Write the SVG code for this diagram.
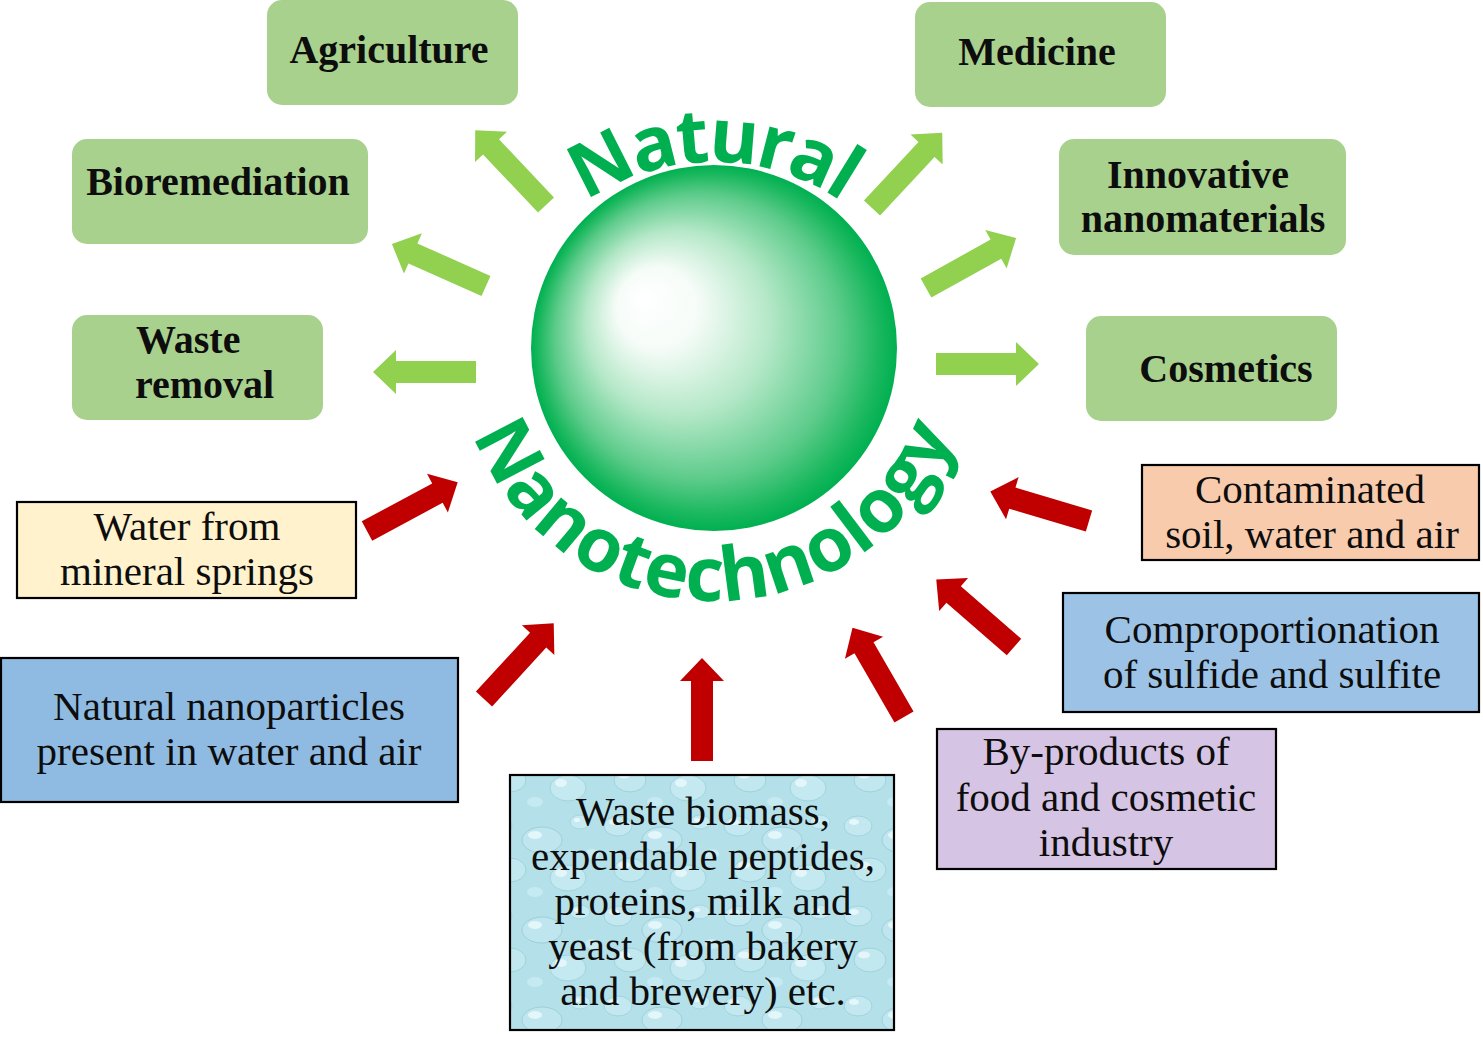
<svg xmlns="http://www.w3.org/2000/svg" xmlns:xlink="http://www.w3.org/1999/xlink" width="1483" height="1039" viewBox="0 0 1483 1039">
<style>
.gbox{fill:#a9d18e;}
.bt{font-family:"Liberation Serif","Times New Roman",serif;font-weight:bold;font-size:40px;fill:#0d0d0d;}
.rt{font-family:"Liberation Serif","Times New Roman",serif;font-size:41px;fill:#0d0d0d;text-anchor:middle;}
.sb{stroke:#000;stroke-width:2.2;}
.ga{fill:#92d050;}
.ra{fill:#c00000;}
.arc{font-family:"Open Sans","Noto Sans","DejaVu Sans",sans-serif;font-weight:bold;font-size:75px;fill:#00b050;}
</style>
<defs>
<radialGradient id="sph" cx="50%" cy="50%" r="50%" fx="30%" fy="36%">
<stop offset="0" stop-color="#ffffff"/>
<stop offset="0.22" stop-color="#f6fcf8"/>
<stop offset="0.5" stop-color="#b5e8c8"/>
<stop offset="0.78" stop-color="#5ccb8a"/>
<stop offset="0.93" stop-color="#1ab85e"/>
<stop offset="1" stop-color="#00b050"/>
</radialGradient>
<pattern id="drops" width="120" height="90" patternUnits="userSpaceOnUse">
<rect width="120" height="90" fill="#b4e0ea"/>
<ellipse cx="18" cy="16" rx="14" ry="10" fill="#c3e8f0" stroke="#a0d4df" stroke-width="1"/>
<ellipse cx="62" cy="30" rx="20" ry="13" fill="#bfe6ee" stroke="#9ccfdb" stroke-width="1"/>
<ellipse cx="100" cy="12" rx="10" ry="7" fill="#c6eaf1" stroke="#a3d6e0" stroke-width="1"/>
<ellipse cx="30" cy="60" rx="16" ry="12" fill="#c1e7ef" stroke="#9ed2dd" stroke-width="1"/>
<ellipse cx="88" cy="68" rx="18" ry="13" fill="#c4e9f0" stroke="#a0d4df" stroke-width="1"/>
<ellipse cx="112" cy="44" rx="7" ry="5" fill="#c8ebf2"/>
<ellipse cx="55" cy="82" rx="8" ry="5" fill="#c6eaf1"/>
<ellipse cx="14" cy="12" rx="5" ry="3" fill="#e6f7fa"/>
<ellipse cx="55" cy="25" rx="7" ry="4" fill="#e3f6fa"/>
<ellipse cx="24" cy="55" rx="6" ry="3.5" fill="#e4f6fa"/>
<ellipse cx="81" cy="63" rx="6" ry="4" fill="#e4f6fa"/>
<ellipse cx="97" cy="10" rx="3" ry="2" fill="#eaf8fb"/>
</pattern>
<path id="arr" d="M0,-11 L80,-11 L80,-22 L103,0 L80,22 L80,11 L0,11 Z"/>
<path id="topArc" d="M488,388 A226,226 0 0 1 940,388"/>
<path id="botArc" d="M457,344 A257,257 0 0 0 971,344"/>
</defs>
<rect width="1483" height="1039" fill="#ffffff"/>

<g id="center">
<circle cx="714" cy="348" r="183" fill="url(#sph)"/>
<text class="arc" textLength="272" lengthAdjust="spacing"><textPath xlink:href="#topArc" href="#topArc" startOffset="50%" text-anchor="middle">Natural</textPath></text>
<text class="arc" textLength="621" lengthAdjust="spacing"><textPath xlink:href="#botArc" href="#botArc" startOffset="50%" text-anchor="middle">Nanotechnology</textPath></text>
</g>

<g id="agriculture">
<rect class="gbox" x="267" y="0" width="251" height="105" rx="15"/>
<text class="bt" x="389" y="63" text-anchor="middle">Agriculture</text>
</g>
<g id="medicine">
<rect class="gbox" x="915" y="2" width="251" height="105" rx="15"/>
<text class="bt" x="1037" y="65" text-anchor="middle">Medicine</text>
</g>
<g id="bioremediation">
<rect class="gbox" x="72" y="139" width="296" height="105" rx="15"/>
<text class="bt" x="218" y="195" text-anchor="middle">Bioremediation</text>
</g>
<g id="innovative">
<rect class="gbox" x="1059" y="139" width="287" height="116" rx="15"/>
<text class="bt" x="1198" y="188" text-anchor="middle">Innovative</text>
<text class="bt" x="1203" y="232" text-anchor="middle">nanomaterials</text>
</g>
<g id="waste-removal">
<rect class="gbox" x="72" y="315" width="251" height="105" rx="15"/>
<text class="bt" x="136" y="353">Waste</text>
<text class="bt" x="135" y="398">removal</text>
</g>
<g id="cosmetics">
<rect class="gbox" x="1086" y="316" width="251" height="105" rx="15"/>
<text class="bt" x="1226" y="382" text-anchor="middle">Cosmetics</text>
</g>

<g id="water-springs">
<rect class="sb" x="17" y="502" width="339" height="96" fill="#fff2cc"/>
<text class="rt" x="187" y="540">Water from</text>
<text class="rt" x="187" y="585">mineral springs</text>
</g>
<g id="natural-nanoparticles">
<rect class="sb" x="1" y="658" width="457" height="144" fill="#8fbbe3"/>
<text class="rt" x="229" y="720">Natural nanoparticles</text>
<text class="rt" x="229" y="765">present in water and air</text>
</g>
<g id="waste-biomass">
<rect class="sb" x="510" y="775" width="384" height="255" fill="url(#drops)"/>
<text class="rt" x="703" y="825">Waste biomass,</text>
<text class="rt" x="703" y="870">expendable peptides,</text>
<text class="rt" x="703" y="915">proteins, milk and</text>
<text class="rt" x="703" y="960">yeast (from bakery</text>
<text class="rt" x="703" y="1005">and brewery) etc.</text>
</g>
<g id="by-products">
<rect class="sb" x="937" y="729" width="339" height="140" fill="#d6c4e4"/>
<text class="rt" x="1106" y="765">By-products of</text>
<text class="rt" x="1106" y="811">food and cosmetic</text>
<text class="rt" x="1106" y="856">industry</text>
</g>
<g id="comproportionation">
<rect class="sb" x="1063" y="593" width="416" height="119" fill="#9cc3e6"/>
<text class="rt" x="1272" y="643">Comproportionation</text>
<text class="rt" x="1272" y="688">of sulfide and sulfite</text>
</g>
<g id="contaminated">
<rect class="sb" x="1142" y="465" width="337" height="95" fill="#f8cbad"/>
<text class="rt" x="1310" y="503">Contaminated</text>
<text class="rt" x="1312" y="548">soil, water and air</text>
</g>

<g id="connectors">
<use href="#arr" xlink:href="#arr" class="ga" transform="translate(546,205) rotate(226.6)"/>
<use href="#arr" xlink:href="#arr" class="ga" transform="translate(486,286) rotate(204)"/>
<use href="#arr" xlink:href="#arr" class="ga" transform="translate(476,372) rotate(180)"/>
<use href="#arr" xlink:href="#arr" class="ga" transform="translate(872,208) rotate(-47)"/>
<use href="#arr" xlink:href="#arr" class="ga" transform="translate(926,288) rotate(-29)"/>
<use href="#arr" xlink:href="#arr" class="ga" transform="translate(936,364) rotate(0)"/>
<use href="#arr" xlink:href="#arr" class="ra" transform="translate(367,531) rotate(-28.3)"/>
<use href="#arr" xlink:href="#arr" class="ra" transform="translate(484,699) rotate(-47.4)"/>
<use href="#arr" xlink:href="#arr" class="ra" transform="translate(702,761) rotate(-90)"/>
<use href="#arr" xlink:href="#arr" class="ra" transform="translate(904,717) rotate(240)"/>
<use href="#arr" xlink:href="#arr" class="ra" transform="translate(1014,647) rotate(221)"/>
<use href="#arr" xlink:href="#arr" class="ra" transform="translate(1089,521) rotate(196.6)"/>
</g>
</svg>
